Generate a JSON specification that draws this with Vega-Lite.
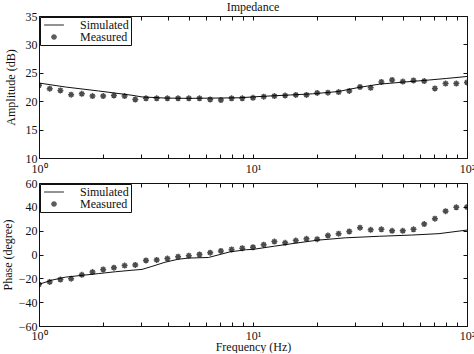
{
  "$schema": "https://vega.github.io/schema/vega-lite/v6.json",
  "padding": {"left": 0, "top": 0, "right": 0, "bottom": 0},
  "background": "white",
  "config": {
    "font": "Liberation Serif",
    "view": {"stroke": "#111", "strokeWidth": 1},
    "axis": {"domain": false, "grid": false, "tickColor": "#111", "tickSize": -4, "labelFont": "Liberation Serif", "labelFontSize": 12, "labelColor": "#111", "titleFont": "Liberation Serif", "titleFontSize": 12, "titleFontWeight": "normal", "titleColor": "#111"},
    "title": {"font": "Liberation Serif", "fontSize": 12, "fontWeight": "normal", "color": "#111"},
    "legend": {"labelFont": "Liberation Serif", "labelFontSize": 12, "labelColor": "#111"}
  },
  "datasets": {
    "measured": [
      {"f": 1, "amp": 22.8, "phase": -25, "s": "Measured"},
      {"f": 1.122, "amp": 22.2, "phase": -23, "s": "Measured"},
      {"f": 1.259, "amp": 21.9, "phase": -21, "s": "Measured"},
      {"f": 1.413, "amp": 21.15, "phase": -20.3, "s": "Measured"},
      {"f": 1.585, "amp": 21.3, "phase": -17, "s": "Measured"},
      {"f": 1.778, "amp": 20.9, "phase": -14.7, "s": "Measured"},
      {"f": 1.995, "amp": 20.9, "phase": -12.5, "s": "Measured"},
      {"f": 2.239, "amp": 21.0, "phase": -11.1, "s": "Measured"},
      {"f": 2.512, "amp": 20.9, "phase": -9.3, "s": "Measured"},
      {"f": 2.818, "amp": 20.3, "phase": -8.8, "s": "Measured"},
      {"f": 3.162, "amp": 20.5, "phase": -5, "s": "Measured"},
      {"f": 3.548, "amp": 20.5, "phase": -4.6, "s": "Measured"},
      {"f": 3.981, "amp": 20.5, "phase": -3.4, "s": "Measured"},
      {"f": 4.467, "amp": 20.5, "phase": -1.8, "s": "Measured"},
      {"f": 5.012, "amp": 20.5, "phase": -1, "s": "Measured"},
      {"f": 5.623, "amp": 20.5, "phase": 0, "s": "Measured"},
      {"f": 6.31, "amp": 20.3, "phase": 1.5, "s": "Measured"},
      {"f": 7.079, "amp": 20.2, "phase": 3, "s": "Measured"},
      {"f": 7.943, "amp": 20.5, "phase": 4.3, "s": "Measured"},
      {"f": 8.913, "amp": 20.5, "phase": 5.3, "s": "Measured"},
      {"f": 10, "amp": 20.6, "phase": 6.1, "s": "Measured"},
      {"f": 11.22, "amp": 20.8, "phase": 8.2, "s": "Measured"},
      {"f": 12.59, "amp": 20.9, "phase": 10.9, "s": "Measured"},
      {"f": 14.13, "amp": 21.0, "phase": 9.8, "s": "Measured"},
      {"f": 15.85, "amp": 21.1, "phase": 11.7, "s": "Measured"},
      {"f": 17.78, "amp": 21.1, "phase": 13.2, "s": "Measured"},
      {"f": 19.95, "amp": 21.45, "phase": 12.9, "s": "Measured"},
      {"f": 22.39, "amp": 21.5, "phase": 15.9, "s": "Measured"},
      {"f": 25.12, "amp": 21.6, "phase": 17.5, "s": "Measured"},
      {"f": 28.18, "amp": 21.8, "phase": 19.3, "s": "Measured"},
      {"f": 31.62, "amp": 22.5, "phase": 22.5, "s": "Measured"},
      {"f": 35.48, "amp": 22.35, "phase": 20.7, "s": "Measured"},
      {"f": 39.81, "amp": 23.4, "phase": 21.1, "s": "Measured"},
      {"f": 44.67, "amp": 23.75, "phase": 19.9, "s": "Measured"},
      {"f": 50.12, "amp": 23.45, "phase": 19.9, "s": "Measured"},
      {"f": 56.23, "amp": 23.65, "phase": 21.1, "s": "Measured"},
      {"f": 63.1, "amp": 23.55, "phase": 25.5, "s": "Measured"},
      {"f": 70.79, "amp": 22.25, "phase": 30.1, "s": "Measured"},
      {"f": 79.43, "amp": 23.1, "phase": 36.3, "s": "Measured"},
      {"f": 89.13, "amp": 23.1, "phase": 39.6, "s": "Measured"},
      {"f": 100, "amp": 23.3, "phase": 39.8, "s": "Measured"}
    ],
    "simAmp": [
      {"f": 1, "v": 23.2},
      {"f": 1.33, "v": 22.5},
      {"f": 1.9, "v": 21.8},
      {"f": 2.72, "v": 21.05},
      {"f": 3.03, "v": 20.75},
      {"f": 3.9, "v": 20.55},
      {"f": 5, "v": 20.5},
      {"f": 8.6, "v": 20.6},
      {"f": 11, "v": 20.85},
      {"f": 15, "v": 21.1},
      {"f": 19, "v": 21.3},
      {"f": 25, "v": 21.7},
      {"f": 31, "v": 22.4},
      {"f": 39, "v": 23.0},
      {"f": 50, "v": 23.35},
      {"f": 63, "v": 23.65},
      {"f": 80, "v": 24.0},
      {"f": 100, "v": 24.35}
    ],
    "simPhase": [
      {"f": 1, "v": -25},
      {"f": 1.15, "v": -21.5},
      {"f": 1.33, "v": -19},
      {"f": 1.59, "v": -17.5},
      {"f": 1.9, "v": -16},
      {"f": 2.27, "v": -14.5},
      {"f": 2.72, "v": -13.2},
      {"f": 3.03, "v": -12.5},
      {"f": 3.37, "v": -10},
      {"f": 3.88, "v": -6.5},
      {"f": 4.46, "v": -4},
      {"f": 5.0, "v": -3},
      {"f": 6.2, "v": -2.5},
      {"f": 7.8, "v": 2.2},
      {"f": 9.3, "v": 4},
      {"f": 10, "v": 4.3},
      {"f": 12.6, "v": 7},
      {"f": 15.8, "v": 9.5},
      {"f": 20, "v": 12},
      {"f": 27, "v": 14},
      {"f": 39, "v": 15.3},
      {"f": 55, "v": 16.3},
      {"f": 74, "v": 17.5},
      {"f": 100, "v": 20.5}
    ]
  },
  "vconcat": [
    {
      "title": {"text": "Impedance", "offset": -4},
      "width": 428,
      "height": 142,
      "layer": [
        {
          "data": {"name": "simAmp"},
          "mark": {"type": "line", "color": "#111", "strokeWidth": 1, "clip": true},
          "encoding": {
            "x": {"field": "f", "type": "quantitative", "scale": {"type": "log", "domain": [1, 100], "nice": false},
                  "axis": {"orient": "bottom", "title": null, "values": [1,2,3,4,5,6,7,8,9,10,20,30,40,50,60,70,80,90,100], "labelExpr": "datum.value == 1 ? '10⁰' : datum.value == 10 ? '10¹' : datum.value == 100 ? '10²' : ''", "labelPadding": 9, "labelFlush": false}},
            "y": {"field": "v", "type": "quantitative", "scale": {"domain": [10, 35], "nice": false, "zero": false},
                  "axis": {"orient": "left", "title": "Amplitude (dB)", "values": [10,15,20,25,30,35], "labelPadding": 6, "titlePadding": 8}}
          }
        },
        {
          "data": {"name": "measured"},
          "mark": {"type": "point", "filled": false, "stroke": "#000", "strokeWidth": 1.5, "size": 36, "clip": true},
          "encoding": {
            "x": {"field": "f", "type": "quantitative",
                  "axis": {"orient": "top", "title": null, "labels": false, "values": [1,2,3,4,5,6,7,8,9,10,20,30,40,50,60,70,80,90,100]}},
            "y": {"field": "amp", "type": "quantitative",
                  "axis": {"orient": "right", "title": null, "labels": false, "values": [10,15,20,25,30,35]}},
            "shape": {"field": "s", "type": "nominal", "scale": {"domain": ["Simulated", "Measured"], "range": ["M-3.3,0L3.3,0", "M0,-1L0,1M-1,0L1,0M-0.7,-0.7L0.7,0.7M-0.7,0.7L0.7,-0.7"]},
                      "legend": {"title": null, "orient": "top-left", "offset": 1, "strokeColor": "#111", "fillColor": "white", "padding": 2, "rowPadding": 0, "symbolSize": 36, "symbolStrokeColor": "#111", "symbolFillColor": "transparent", "symbolStrokeWidth": 1.3, "symbolOffset": 6, "labelOffset": 20}}
          }
        }
      ],
      "resolve": {"axis": {"x": "independent", "y": "independent"}}
    },
    {
      "width": 428,
      "height": 143,
      "layer": [
        {
          "data": {"name": "simPhase"},
          "mark": {"type": "line", "color": "#111", "strokeWidth": 1, "clip": true},
          "encoding": {
            "x": {"field": "f", "type": "quantitative", "scale": {"type": "log", "domain": [1, 100], "nice": false},
                  "axis": {"orient": "bottom", "title": "Frequency (Hz)", "titlePadding": 0, "values": [1,2,3,4,5,6,7,8,9,10,20,30,40,50,60,70,80,90,100], "labelExpr": "datum.value == 1 ? '10⁰' : datum.value == 10 ? '10¹' : datum.value == 100 ? '10²' : ''", "labelPadding": 8, "labelFlush": false}},
            "y": {"field": "v", "type": "quantitative", "scale": {"domain": [-60, 60], "nice": false, "zero": false},
                  "axis": {"orient": "left", "title": "Phase (degree)", "values": [-60,-40,-20,0,20,40,60], "labelPadding": 6, "titlePadding": 4}}
          }
        },
        {
          "data": {"name": "measured"},
          "mark": {"type": "point", "filled": false, "stroke": "#000", "strokeWidth": 1.5, "size": 36, "clip": true},
          "encoding": {
            "x": {"field": "f", "type": "quantitative",
                  "axis": {"orient": "top", "title": null, "labels": false, "values": [1,2,3,4,5,6,7,8,9,10,20,30,40,50,60,70,80,90,100]}},
            "y": {"field": "phase", "type": "quantitative",
                  "axis": {"orient": "right", "title": null, "labels": false, "values": [-60,-40,-20,0,20,40,60]}},
            "shape": {"field": "s", "type": "nominal", "scale": {"domain": ["Simulated", "Measured"], "range": ["M-3.3,0L3.3,0", "M0,-1L0,1M-1,0L1,0M-0.7,-0.7L0.7,0.7M-0.7,0.7L0.7,-0.7"]},
                      "legend": {"title": null, "orient": "top-left", "offset": 1, "strokeColor": "#111", "fillColor": "white", "padding": 2, "rowPadding": 0, "symbolSize": 36, "symbolStrokeColor": "#111", "symbolFillColor": "transparent", "symbolStrokeWidth": 1.3, "symbolOffset": 6, "labelOffset": 20}}
          }
        }
      ],
      "resolve": {"axis": {"x": "independent", "y": "independent"}}
    }
  ],
  "spacing": 25,
  "bounds": "flush",
  "resolve": {"scale": {"shape": "independent"}}
}
